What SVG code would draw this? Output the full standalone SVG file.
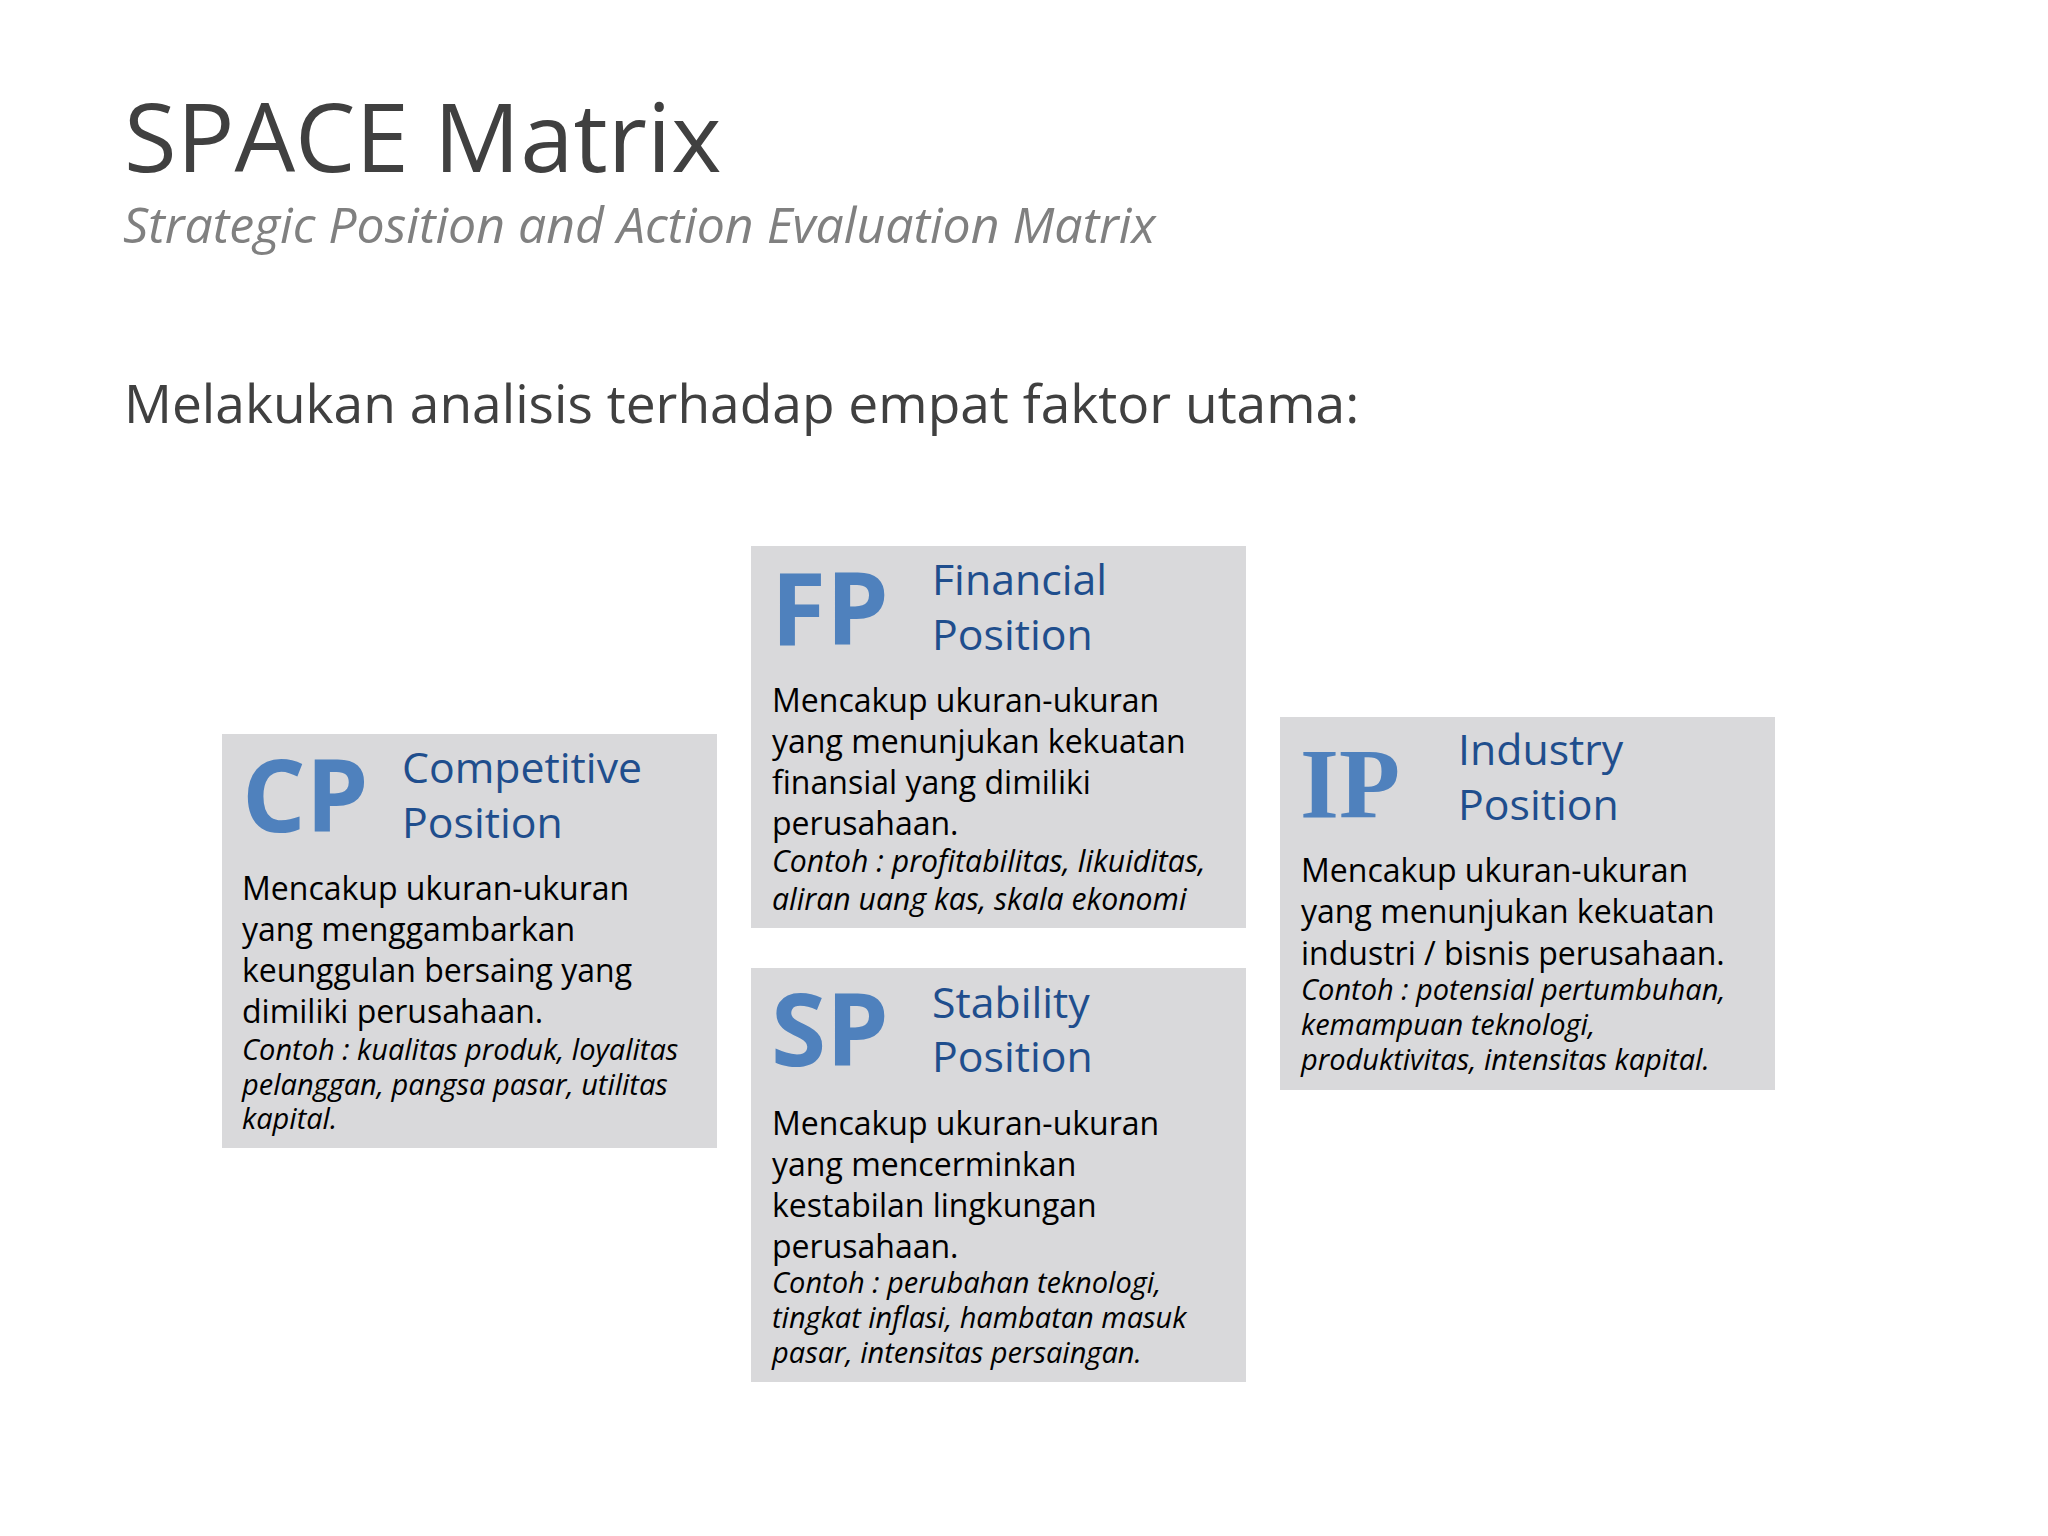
<svg xmlns="http://www.w3.org/2000/svg" width="2048" height="1536" viewBox="0 0 2048 1536">
<style>
.bg{fill:#ffffff}
.box{fill:#d9d9db}
.title{font-family:"Open Sans","Noto Sans",sans-serif;font-size:96px;fill:#404040}
.sub{font-family:"Open Sans","Noto Sans",sans-serif;font-style:italic;font-size:50px;fill:#808080}
.head{font-family:"Open Sans","Noto Sans",sans-serif;font-size:53.3px;fill:#404040}
.big{font-family:"Open Sans","Noto Sans",sans-serif;font-weight:700;font-size:100px;fill:#4f81bd}
.bigs{font-family:"Liberation Serif","DejaVu Serif",serif;font-weight:700;font-size:100px;fill:#4f81bd}
.name{font-family:"Open Sans","Noto Sans",sans-serif;font-size:42.8px;fill:#1f4e8d}
.body{font-family:"Open Sans","Noto Sans",sans-serif;font-size:32px;fill:#000000}
.ex{font-family:"Open Sans","Noto Sans",sans-serif;font-style:italic;font-size:29px;fill:#000000}
.exl{font-family:"Open Sans","Noto Sans",sans-serif;font-style:italic;font-size:30.2px;fill:#000000}
</style>
<rect class="bg" x="0" y="0" width="2048" height="1536"/>
<g id="header">
<text class="title" x="124" y="172">SPACE Matrix</text>
<text class="sub" x="123" y="243">Strategic Position and Action Evaluation Matrix</text>
<text class="head" x="124" y="423">Melakukan analisis terhadap empat faktor utama:</text>
</g>
<g id="node-cp">
<rect class="box" x="222" y="734" width="495" height="414"/>
<text class="big" x="242" y="832">CP</text>
<text class="name" x="402" y="783">Competitive</text>
<text class="name" x="402" y="838">Position</text>
<text class="body" x="242" y="900">Mencakup ukuran-ukuran</text>
<text class="body" x="242" y="941">yang menggambarkan</text>
<text class="body" x="242" y="982">keunggulan bersaing yang</text>
<text class="body" x="242" y="1023">dimiliki perusahaan.</text>
<text class="ex" x="242" y="1060">Contoh : kualitas produk, loyalitas</text>
<text class="ex" x="242" y="1095">pelanggan, pangsa pasar, utilitas</text>
<text class="ex" x="242" y="1129">kapital.</text>
</g>
<g id="node-fp">
<rect class="box" x="751" y="546" width="495" height="382"/>
<text class="big" x="771" y="645">FP</text>
<text class="name" x="932" y="595">Financial</text>
<text class="name" x="932" y="650">Position</text>
<text class="body" x="772" y="712">Mencakup ukuran-ukuran</text>
<text class="body" x="772" y="753">yang menunjukan kekuatan</text>
<text class="body" x="772" y="794">finansial yang dimiliki</text>
<text class="body" x="772" y="835">perusahaan.</text>
<text class="exl" x="772" y="872">Contoh : profitabilitas, likuiditas,</text>
<text class="exl" x="772" y="910">aliran uang kas, skala ekonomi</text>
</g>
<g id="node-sp">
<rect class="box" x="751" y="968" width="495" height="414"/>
<text class="big" x="771" y="1066">SP</text>
<text class="name" x="932" y="1018">Stability</text>
<text class="name" x="932" y="1072">Position</text>
<text class="body" x="772" y="1135">Mencakup ukuran-ukuran</text>
<text class="body" x="772" y="1176">yang mencerminkan</text>
<text class="body" x="772" y="1217">kestabilan lingkungan</text>
<text class="body" x="772" y="1258">perusahaan.</text>
<text class="ex" x="772" y="1293">Contoh : perubahan teknologi,</text>
<text class="ex" x="772" y="1328">tingkat inflasi, hambatan masuk</text>
<text class="ex" x="772" y="1363">pasar, intensitas persaingan.</text>
</g>
<g id="node-ip">
<rect class="box" x="1280" y="717" width="495" height="373"/>
<text class="bigs" x="1300" y="817">IP</text>
<text class="name" x="1458" y="765">Industry</text>
<text class="name" x="1458" y="820">Position</text>
<text class="body" x="1301" y="882">Mencakup ukuran-ukuran</text>
<text class="body" x="1301" y="923">yang menunjukan kekuatan</text>
<text class="body" x="1301" y="965">industri / bisnis perusahaan.</text>
<text class="ex" x="1301" y="1000">Contoh : potensial pertumbuhan,</text>
<text class="ex" x="1301" y="1035">kemampuan teknologi,</text>
<text class="ex" x="1301" y="1070">produktivitas, intensitas kapital.</text>
</g>
<g id="connectors"></g>
</svg>
